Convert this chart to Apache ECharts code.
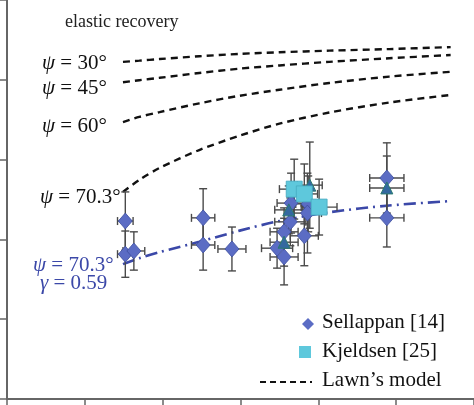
<!DOCTYPE html>
<html>
<head>
<meta charset="utf-8">
<script src="https://cdn.jsdelivr.net/npm/echarts@6/dist/echarts.min.js"></script>
<style>
  html, body { margin: 0; padding: 0; background: #fff; }
  #main { width: 474px; height: 405px; }
</style>
</head>
<body>
<div id="main"></div>
<script>
// model curves (Lawn's model, dashed) share the same x samples
var modelX = [1.49, 1.7, 1.96, 2.47, 2.99, 3.5, 4.14, 4.91, 5.7];
var psi30 = [0.845, 0.848, 0.852, 0.859, 0.865, 0.869, 0.873, 0.877, 0.882];
var psi45 = [0.794, 0.799, 0.805, 0.817, 0.828, 0.836, 0.845, 0.854, 0.862];
var psi60 = [0.694, 0.707, 0.719, 0.741, 0.760, 0.775, 0.792, 0.808, 0.820];
var psi703 = [0.519, 0.549, 0.579, 0.624, 0.660, 0.690, 0.718, 0.743, 0.762];
// psi = 70.3, gamma = 0.59 (blue dash-dot)
var fitY = [0.338, 0.353, 0.368, 0.394, 0.422, 0.446, 0.468, 0.485, 0.496];

// Sellappan [14] diamonds: x, y, x error, y error
var sellX  = [1.52, 1.52, 1.63, 2.52, 2.52, 2.89, 3.65, 3.87, 3.86, 3.64, 3.56, 3.82, 3.47, 3.56, 4.88, 4.88];
var sellY  = [0.446, 0.363, 0.371, 0.454, 0.386, 0.376, 0.491, 0.489, 0.466, 0.444, 0.419, 0.409, 0.378, 0.356, 0.554, 0.454];
var sellEx = [0.10, 0.10, 0.14, 0.15, 0.15, 0.18, 0.18, 0.16, 0.18, 0.20, 0.18, 0.18, 0.20, 0.18, 0.22, 0.22];
var sellEy = [0.073, 0.058, 0.048, 0.073, 0.063, 0.055, 0.075, 0.07, 0.10, 0.06, 0.06, 0.075, 0.05, 0.07, 0.088, 0.073];

// triangles (third data set)
var triX  = [3.89, 3.62, 3.56, 4.88];
var triY  = [0.536, 0.474, 0.393, 0.529];
var triEx = [0.16, 0.18, 0.18, 0.22];
var triEy = [0.108, 0.06, 0.06, 0.08];

// Kjeldsen [25] squares
var kjX  = [3.69, 3.82, 4.01];
var kjY  = [0.526, 0.514, 0.481];
var kjEx = [0.19, 0.17, 0.23];
var kjEy = [0.075, 0.075, 0.07];

function zip(xs, ys) {
  return xs.map(function (x, i) { return [x, ys[i]]; });
}
function zipErr(xs, ys, ex, ey) {
  return xs.map(function (x, i) { return [x, ys[i], ex[i], ey[i]]; });
}

var errStyle = { stroke: '#4a4a4a', lineWidth: 1.4 };
function renderErr(params, api) {
  var x = api.value(0), y = api.value(1), ex = api.value(2), ey = api.value(3);
  var c = api.coord([x, y]);
  var t = api.coord([x, y + ey]), b = api.coord([x, y - ey]);
  var l = api.coord([x - ex, y]), r = api.coord([x + ex, y]);
  var cap = 4;
  return {
    type: 'group',
    children: [
      { type: 'line', shape: { x1: c[0], y1: t[1], x2: c[0], y2: b[1] }, style: errStyle },
      { type: 'line', shape: { x1: c[0] - cap, y1: t[1], x2: c[0] + cap, y2: t[1] }, style: errStyle },
      { type: 'line', shape: { x1: c[0] - cap, y1: b[1], x2: c[0] + cap, y2: b[1] }, style: errStyle },
      { type: 'line', shape: { x1: l[0], y1: c[1], x2: r[0], y2: c[1] }, style: errStyle },
      { type: 'line', shape: { x1: l[0], y1: c[1] - cap, x2: l[0], y2: c[1] + cap }, style: errStyle },
      { type: 'line', shape: { x1: r[0], y1: c[1] - cap, x2: r[0], y2: c[1] + cap }, style: errStyle }
    ]
  };
}

function dashed(name, ys) {
  return {
    name: name,
    type: 'line',
    data: zip(modelX, ys),
    smooth: 0.3,
    showSymbol: false,
    symbol: 'none',
    lineStyle: { color: '#111', width: 2.4, type: [7, 5] },
    z: 1,
    silent: true
  };
}

var serif = 'Liberation Serif';
var blue = '#3b48a8';

function psiText(txt, left, top, color) {
  return {
    type: 'text', left: left, top: top,
    style: {
      text: txt, fill: color, fontSize: 21, fontFamily: serif,
      rich: { i: { fontStyle: 'italic', fontSize: 21, fontFamily: serif, fill: color } }
    }
  };
}

var chart = echarts.init(document.getElementById('main'));
var option = {
  animation: false,
  grid: { left: 7, right: 0, top: 0, bottom: 6 },
  xAxis: {
    type: 'value', min: 0, max: 6, interval: 1,
    axisLine: { lineStyle: { color: '#666', width: 2 } },
    axisTick: { inside: false, length: 6, lineStyle: { color: '#666', width: 1.5 } },
    axisLabel: { show: false },
    splitLine: { show: false }
  },
  yAxis: {
    type: 'value', min: 0, max: 1, interval: 0.2,
    axisLine: { lineStyle: { color: '#666', width: 2 } },
    axisTick: { inside: false, length: 7, lineStyle: { color: '#666', width: 1.5 } },
    axisLabel: { show: false },
    splitLine: { show: false }
  },
  series: [
    dashed('psi30', psi30),
    dashed('psi45', psi45),
    dashed('psi60', psi60),
    dashed('psi70.3', psi703),
    {
      name: 'fit', type: 'line', data: zip(modelX, fitY), smooth: 0.3,
      symbol: 'none', lineStyle: { color: blue, width: 2.6, type: [12, 5, 2, 5] }, z: 1, silent: true
    },
    { type: 'custom', renderItem: renderErr, data: zipErr(sellX, sellY, sellEx, sellEy), encode: { x: 0, y: 1 }, z: 2, silent: true },
    { type: 'custom', renderItem: renderErr, data: zipErr(triX, triY, triEx, triEy), encode: { x: 0, y: 1 }, z: 2, silent: true },
    { type: 'custom', renderItem: renderErr, data: zipErr(kjX, kjY, kjEx, kjEy), encode: { x: 0, y: 1 }, z: 2, silent: true },
    {
      name: 'Sellappan [14]', type: 'scatter', data: zip(sellX, sellY), symbol: 'diamond', symbolSize: [14, 16],
      itemStyle: { color: '#5b6cc4', borderColor: '#3d4f9e', borderWidth: 0.8, opacity: 1 }, z: 3
    },
    {
      name: 'Kjeldsen [25]', type: 'scatter', data: zip(kjX, kjY), symbol: 'rect', symbolSize: 16,
      itemStyle: { color: '#5ec8dc', borderColor: '#45a9c0', borderWidth: 0.8, opacity: 1 }, z: 4
    },
    {
      name: 'tri', type: 'scatter', data: zip(triX, triY), symbol: 'triangle', symbolSize: 12,
      itemStyle: { color: '#3468a0', borderColor: '#2a7a70', borderWidth: 1, opacity: 1 }, z: 3
    }
  ],
  graphic: [
    { type: 'text', left: 65, top: 13, style: { text: 'elastic recovery', fontSize: 18, fontFamily: serif, fill: '#222' } },
    psiText('{i|ψ} = 30°', 42, 53, '#111'),
    psiText('{i|ψ} = 45°', 42, 78, '#111'),
    psiText('{i|ψ} = 60°', 42, 116, '#111'),
    psiText('{i|ψ} = 70.3°', 40, 187, '#111'),
    psiText('{i|ψ} = 70.3°', 33, 255, blue),
    psiText('{i|γ} = 0.59', 40, 273, blue),
    // legend
    { type: 'polygon', shape: { points: [[308, 318], [314, 324], [308, 330], [302, 324]] }, style: { fill: '#5b6cc4' } },
    { type: 'text', left: 322, top: 312, style: { text: 'Sellappan [14]', fontSize: 21, fontFamily: serif, fill: '#111' } },
    { type: 'rect', shape: { x: 299, y: 346, width: 12, height: 12 }, style: { fill: '#5ec8dc' } },
    { type: 'text', left: 322, top: 341, style: { text: 'Kjeldsen [25]', fontSize: 21, fontFamily: serif, fill: '#111' } },
    { type: 'line', shape: { x1: 260, y1: 382, x2: 312, y2: 382 }, style: { stroke: '#111', lineWidth: 1.8, lineDash: [6, 4] } },
    { type: 'text', left: 322, top: 370, style: { text: 'Lawn’s model', fontSize: 21, fontFamily: serif, fill: '#111' } }
  ]
};
chart.setOption(option);
</script>
</body>
</html>
